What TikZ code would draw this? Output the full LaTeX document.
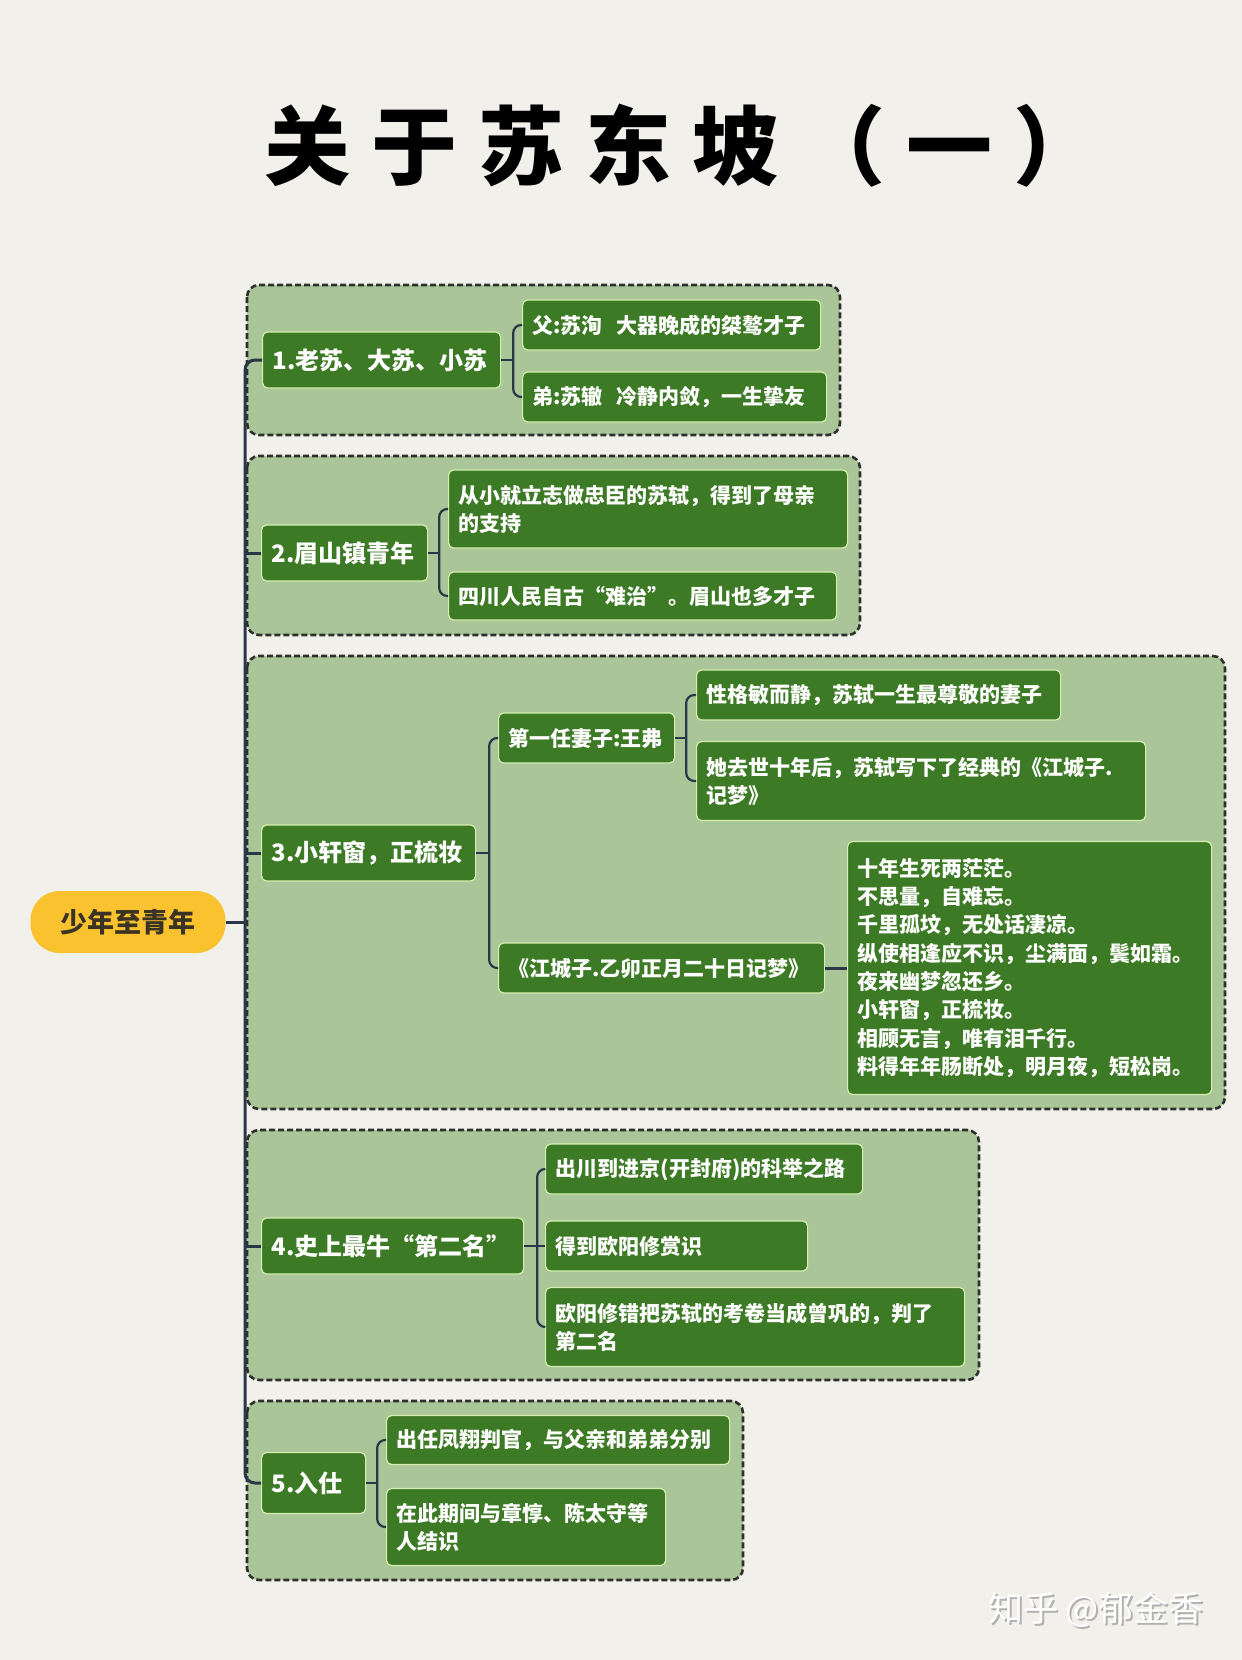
\documentclass[tikz,border=0pt]{standalone}
\usepackage{fontspec}
\newfontfamily\cjk{Noto Sans CJK SC}

\definecolor{paper}{HTML}{F2F0EB}
\definecolor{leafgreen}{HTML}{3D7A25}
\definecolor{leafedge}{HTML}{D6EFB0}
\definecolor{groupgreen}{HTML}{AAC698}
\definecolor{groupedge}{HTML}{2E302E}
\definecolor{linkblue}{HTML}{2A3748}
\definecolor{rootyellow}{HTML}{F9C22E}
\definecolor{roottext}{HTML}{3A3222}

\tikzset{
  leaf/.style={draw=leafedge, line width=1.2pt, fill=leafgreen, rounded corners=5pt,
    text=white, font=\cjk\bfseries\fontsize{21}{28}\selectfont, align=left,
    anchor=west, inner xsep=10pt, inner ysep=0pt, minimum height=50pt},
  topic/.style={leaf, font=\cjk\bfseries\fontsize{24}{28}\selectfont, minimum height=56pt},
  group/.style={draw=groupedge, fill=groupgreen, line width=2.6pt, rounded corners=12pt,
    dash pattern=on 6pt off 3pt},
  link/.style={draw=linkblue, line width=2.2pt, rounded corners=8pt},
  spine/.style={draw=linkblue, line width=3pt, rounded corners=10pt},
}

\begin{document}
\begin{tikzpicture}[x=1pt,y=-1pt]
  \fill[paper] (0,0) rectangle (1242,1660);
  \useasboundingbox (0,0) rectangle (1242,1660);

  % title
  \node[font=\cjk\bfseries\fontsize{86}{90}\selectfont] (title) at (682,146)
    {关\hspace{21pt}于\hspace{21pt}苏\hspace{21pt}东\hspace{21pt}坡\hspace{21pt}（\hspace{21pt}一\hspace{21pt}）};

  % groups
  \draw[group] (247,285) rectangle (840,435);
  \draw[group] (247,456) rectangle (860,635);
  \draw[group] (247,656) rectangle (1225,1109);
  \draw[group] (247,1130) rectangle (979,1380);
  \draw[group] (247,1401) rectangle (743,1580);

  % root
  \node[fill=rootyellow, rounded corners=29pt, minimum width=195pt, minimum height=62pt,
    text=roottext, font=\cjk\bfseries\fontsize{27}{30}\selectfont] (root) at (128,922) {少年至青年};

  % 1
  \node[topic, text width=218pt] (t1) at (262,360) {1.老苏、大苏、小苏};
  \node[leaf, text width=278pt] (t1a) at (522,325) {父:苏洵~~大器晚成的桀骜才子};
  \node[leaf, text width=284pt] (t1b) at (522,397) {弟:苏辙~~冷静内敛，一生挚友};

  % 2
  \node[topic, text width=146pt] (t2) at (261,553) {2.眉山镇青年};
  \node[leaf, text width=379pt, minimum height=78pt] (t2a) at (448,509) {从小就立志做忠臣的苏轼，得到了母亲\\的支持};
  \node[leaf, text width=368pt, minimum height=48pt] (t2b) at (448,596) {四川人民自古“难治”。眉山也多才子};

  % 3
  \node[topic, text width=194pt] (t3) at (261,853) {3.小轩窗，正梳妆};
  \node[leaf, text width=156pt] (t3a) at (498,738) {第一任妻子:王弗};
  \node[leaf, text width=344pt] (t3a1) at (696,695) {性格敏而静，苏轼一生最尊敬的妻子};
  \node[leaf, text width=429pt, minimum height=79pt] (t3a2) at (696,781) {她去世十年后，苏轼写下了经典的《江城子.\\记梦》};
  \node[leaf, text width=306pt] (t3b) at (498,968) {《江城子.乙卯正月二十日记梦》};
  \node[leaf, text width=344pt, minimum height=253pt, font=\cjk\bfseries\fontsize{21}{28.3}\selectfont] (t3b1) at (847,968)
    {十年生死两茫茫。\\不思量，自难忘。\\千里孤坟，无处话凄凉。\\纵使相逢应不识，尘满面，鬓如霜。\\夜来幽梦忽还乡。\\小轩窗，正梳妆。\\相顾无言，唯有泪千行。\\料得年年肠断处，明月夜，短松岗。};

  % 4
  \node[topic, text width=242pt] (t4) at (261,1246) {4.史上最牛“第二名”};
  \node[leaf, text width=297pt] (t4a) at (545,1169) {出川到进京(开封府)的科举之路};
  \node[leaf, text width=242pt] (t4b) at (545,1246) {得到欧阳修赏识};
  \node[leaf, text width=399pt, minimum height=79pt] (t4c) at (545,1327) {欧阳修错把苏轼的考卷当成曾巩的，判了\\第二名};

  % 5
  \node[topic, text width=84pt, minimum height=61pt] (t5) at (261,1483) {5.入仕};
  \node[leaf, text width=323pt, minimum height=49pt] (t5a) at (386,1440) {出任凤翔判官，与父亲和弟弟分别};
  \node[leaf, text width=259pt, minimum height=77pt] (t5b) at (386,1527) {在此期间与章惇、陈太守等\\人结识};

  % spine
  \coordinate (sp) at (245,0);
  \draw[spine] (t1.west) -- ++(-17,0) |- (t5.west);
  \draw[spine] (root.east) -- (root.east -| sp);
  \draw[spine] (t2.west) -- (t2.west -| sp);
  \draw[spine] (t3.west) -- (t3.west -| sp);
  \draw[spine] (t4.west) -- (t4.west -| sp);

  % brackets
  \draw[link] (t1.east) -- ++(12,0) coordinate (b1);
  \draw[link] (b1) |- (t1a.west);
  \draw[link] (b1) |- (t1b.west);
  \draw[link] (t2.east) -- ++(11,0) coordinate (b2);
  \draw[link] (b2) |- (t2a.west);
  \draw[link] (b2) |- (t2b.west);
  \draw[link] (t3.east) -- ++(13,0) coordinate (b3);
  \draw[link] (b3) |- (t3a.west);
  \draw[link] (b3) |- (t3b.west);
  \draw[link] (t3a.east) -- ++(11,0) coordinate (b3a);
  \draw[link] (b3a) |- (t3a1.west);
  \draw[link] (b3a) |- (t3a2.west);
  \draw[link, line width=3pt] (t3b.east) -- (t3b1.west);
  \draw[link] (t4.east) -- ++(13,0) coordinate (b4);
  \draw[link] (b4) |- (t4a.west);
  \draw[link] (b4) -- (t4b.west);
  \draw[link] (b4) |- (t4c.west);
  \draw[link] (t5.east) -- ++(11,0) coordinate (b5);
  \draw[link] (b5) |- (t5a.west);
  \draw[link] (b5) |- (t5b.west);

  % watermark
  \node[text=black!30, font=\cjk\fontsize{35}{38}\selectfont] (wms) at (1098,1612) {知乎 @郁金香};
  \node[text=white, font=\cjk\fontsize{35}{38}\selectfont] (wm) at (1096,1610) {知乎 @郁金香};
\end{tikzpicture}
\end{document}
